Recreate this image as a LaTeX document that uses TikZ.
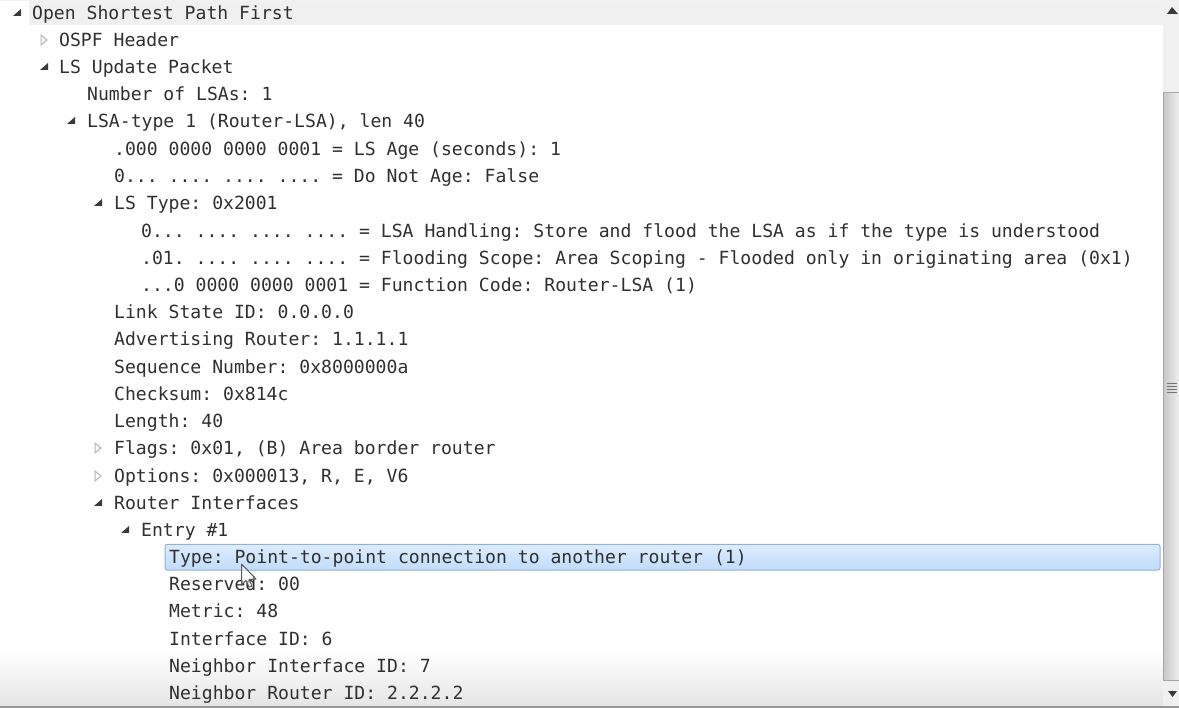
\documentclass[tikz,border=0pt]{standalone}
\usepackage{fontspec}
\setmainfont{DejaVu Sans Mono}
\frenchspacing
\definecolor{rowgrey}{HTML}{F0F0F0}
\definecolor{rowink}{HTML}{303030}
\definecolor{markink}{HTML}{3A3A3A}
\definecolor{markline}{HTML}{B4B4B4}
\definecolor{selectline}{HTML}{8FB0D8}
\definecolor{selecttop}{HTML}{DDECFD}
\definecolor{selectbot}{HTML}{C0DCFC}
\definecolor{barline}{HTML}{A6A6A6}
\tikzset{
    rowtext/.style={anchor=west, inner sep=0pt, text=rowink, text height=13pt, text depth=0.5pt,
        font=\fontsize{18.1}{20}\selectfont},
    expandmark/.pic={\fill[markink] (4,-4) -- (4,3) -- (-4,3) -- cycle;},
    collapsemark/.pic={\draw[markline, fill=white, line width=1pt] (-3,-5) -- (3,0) -- (-3,5) -- cycle;}
}
\begin{document}
\begin{tikzpicture}[x=1pt, y=-1pt]
    \useasboundingbox (0,0) rectangle (1179,708);
    \fill[white] (0,0) rectangle (1179,708);

    % Bottom fade and top row
    \shade[top color=white, bottom color=black!10] (0,650) rectangle (1163,705);
    \fill[rowgrey] (29,1) rectangle (1163,25);
    \fill[black!5] (0,0) rectangle (1179,1);

    % Selected row
    \draw[selectline, line width=1pt, rounded corners=2pt, top color=selecttop, bottom color=selectbot]
        (165,544.5) rectangle (1160,570);

    % Tree marks
    \path (17,13) pic {expandmark};
    \path (44,40) pic {collapsemark};
    \path (44,67) pic {expandmark};
    \path (71,121) pic {expandmark};
    \path (98,203) pic {expandmark};
    \path (98,448) pic {collapsemark};
    \path (98,476) pic {collapsemark};
    \path (98,503) pic {expandmark};
    \path (125,530) pic {expandmark};

    % Protocol rows
    \node (ospfroot) [rowtext] at (32,13) {Open Shortest Path First};
    \node (ospfheader) [rowtext] at (59,40) {OSPF Header};
    \node (lsupdate) [rowtext] at (59,67) {LS Update Packet};
    \node (numlsas) [rowtext] at (87,94) {Number of LSAs: 1};
    \node (lsatype) [rowtext] at (87,121) {LSA-type 1 (Router-LSA), len 40};

    % LSA header rows
    \node (lsage) [rowtext] at (114,149) {.000 0000 0000 0001 = LS Age (seconds): 1};
    \node (donotage) [rowtext] at (114,176) {0... .... .... .... = Do Not Age: False};
    \node (lstype) [rowtext] at (114,203) {LS Type: 0x2001};
    \node (handling) [rowtext] at (141,231) {0... .... .... .... = LSA Handling: Store and flood the LSA as if the type is understood};
    \node (scope) [rowtext] at (141,258) {.01. .... .... .... = Flooding Scope: Area Scoping - Flooded only in originating area (0x1)};
    \node (funccode) [rowtext] at (141,285) {...0 0000 0000 0001 = Function Code: Router-LSA (1)};
    \node (linkstate) [rowtext] at (114,312) {Link State ID: 0.0.0.0};
    \node (advrouter) [rowtext] at (114,339) {Advertising Router: 1.1.1.1};
    \node (seqnum) [rowtext] at (114,367) {Sequence Number: 0x8000000a};
    \node (checksum) [rowtext] at (114,394) {Checksum: 0x814c};
    \node (length) [rowtext] at (114,421) {Length: 40};
    \node (flags) [rowtext] at (114,448) {Flags: 0x01, (B) Area border router};
    \node (options) [rowtext] at (114,476) {Options: 0x000013, R, E, V6};

    % Router interface rows
    \node (routerif) [rowtext] at (114,503) {Router Interfaces};
    \node (entry) [rowtext] at (141,530) {Entry \#1};
    \node (iftype) [rowtext] at (169,557) {Type: Point-to-point connection to another router (1)};
    \node (reserved) [rowtext] at (169,584) {Reserved: 00};
    \node (metric) [rowtext] at (169,611) {Metric: 48};
    \node (ifid) [rowtext] at (169,639) {Interface ID: 6};
    \node (neighif) [rowtext] at (169,666) {Neighbor Interface ID: 7};
    \node (neighrouter) [rowtext] at (169,693) {Neighbor Router ID: 2.2.2.2};

    % Scrollbar
    \fill[rowgrey] (1163,0) rectangle (1179,706);
    \shade[left color=black!22, right color=black!6, draw=barline, line width=1pt] (1163,93) rectangle (1180,680);
    \fill[markink] (1167,14) -- (1172,7) -- (1178,14) -- cycle;
    \fill[markink] (1168,691) -- (1177,691) -- (1172.5,697) -- cycle;
    \foreach \y in {384,387,390,393}
        \draw[black!55, line width=1pt] (1167,\y) -- (1177,\y);

    % Bottom edge
    \fill[black!40] (0,705.5) rectangle (1179,708);

    % Mouse pointer
    \draw[black!65, fill=white, fill opacity=0.55, line width=1pt, line join=round]
        (241.5,564) -- (241.5,585) -- (246,580.5) -- (249,587) -- (252,586) -- (249,579.5) -- (256,579) -- cycle;
\end{tikzpicture}
\end{document}
